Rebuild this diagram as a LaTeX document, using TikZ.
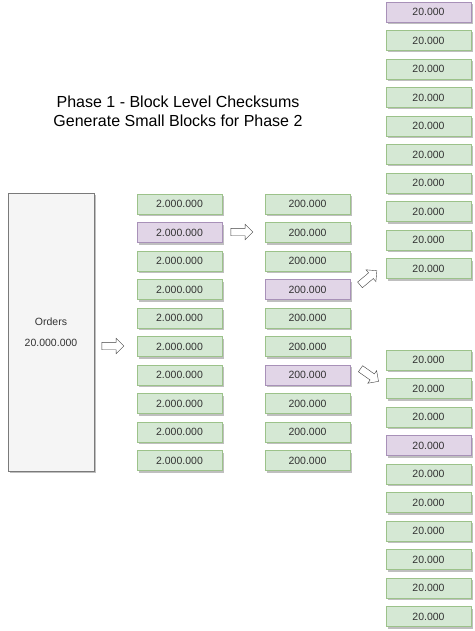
\documentclass[tikz,border=0pt]{standalone}
\usepackage{fontspec}
\setmainfont{Liberation Sans}
\usepackage{tikz}
\usetikzlibrary{arrows.meta, positioning, shapes.arrows, shadows}

\definecolor{chunkfill}{HTML}{D5E8D4}
\definecolor{chunkline}{HTML}{9CC28A}
\definecolor{pickfill}{HTML}{E1D5E7}
\definecolor{pickline}{HTML}{A891B8}
\definecolor{tablefill}{HTML}{F5F5F5}
\definecolor{tableline}{HTML}{7A7A7A}

\begin{document}
\begin{tikzpicture}[
        x=1pt, y=1pt,
        node distance = 28.5pt,
        chunk/.style={rectangle, draw=chunkline, fill=chunkfill, minimum width=85pt, minimum height=20pt,
            text=black!80, font=\fontsize{10.5}{12}\selectfont,
            drop shadow={shadow xshift=2pt, shadow yshift=-2pt, opacity=0.25, fill=black}},
        pick/.style={chunk, draw=pickline, fill=pickfill},
        table/.style={rectangle, draw=tableline, fill=tablefill, minimum width=86pt, minimum height=278pt,
            text=black!80, font=\fontsize{10.5}{12.5}\selectfont, align=center,
            drop shadow={shadow xshift=2pt, shadow yshift=-2pt, opacity=0.25, fill=black}},
        blockarrow/.style={single arrow, draw=black!75, fill=white, inner sep=3.5pt, minimum height=22pt,
            single arrow head extend=4pt}
    ]
        \useasboundingbox (0,0) rectangle (474,-631);

        % title
        \node[align=center, font=\fontsize{16}{19}\selectfont] (title) at (178,-111)
            {Phase 1 - Block Level Checksums\\Generate Small Blocks for Phase 2};

        % source table
        \node[table] (orders) at (51,-332) {Orders\\[9pt]20.000.000};

        % first split: 10 x 2.000.000
        \node[chunk] (split1) at (179.5,-204) {2.000.000};
        \node[pick, below of=split1] (split2) {2.000.000};
        \node[chunk, below of=split2] (split3) {2.000.000};
        \node[chunk, below of=split3] (split4) {2.000.000};
        \node[chunk, below of=split4] (split5) {2.000.000};
        \node[chunk, below of=split5] (split6) {2.000.000};
        \node[chunk, below of=split6] (split7) {2.000.000};
        \node[chunk, below of=split7] (split8) {2.000.000};
        \node[chunk, below of=split8] (split9) {2.000.000};
        \node[chunk, below of=split9] (split10) {2.000.000};

        % second split: 10 x 200.000
        \node[chunk] (sub1) at (307.5,-204) {200.000};
        \node[chunk, below of=sub1] (sub2) {200.000};
        \node[chunk, below of=sub2] (sub3) {200.000};
        \node[pick, below of=sub3] (sub4) {200.000};
        \node[chunk, below of=sub4] (sub5) {200.000};
        \node[chunk, below of=sub5] (sub6) {200.000};
        \node[pick, below of=sub6] (sub7) {200.000};
        \node[chunk, below of=sub7] (sub8) {200.000};
        \node[chunk, below of=sub8] (sub9) {200.000};
        \node[chunk, below of=sub9] (sub10) {200.000};

        % third split, upper: 10 x 20.000
        \node[pick] (up1) at (428.5,-12) {20.000};
        \node[chunk, below of=up1] (up2) {20.000};
        \node[chunk, below of=up2] (up3) {20.000};
        \node[chunk, below of=up3] (up4) {20.000};
        \node[chunk, below of=up4] (up5) {20.000};
        \node[chunk, below of=up5] (up6) {20.000};
        \node[chunk, below of=up6] (up7) {20.000};
        \node[chunk, below of=up7] (up8) {20.000};
        \node[chunk, below of=up8] (up9) {20.000};
        \node[chunk, below of=up9] (up10) {20.000};

        % third split, lower: 10 x 20.000
        \node[chunk] (low1) at (428.5,-360) {20.000};
        \node[chunk, below of=low1] (low2) {20.000};
        \node[chunk, below of=low2] (low3) {20.000};
        \node[pick, below of=low3] (low4) {20.000};
        \node[chunk, below of=low4] (low5) {20.000};
        \node[chunk, below of=low5] (low6) {20.000};
        \node[chunk, below of=low6] (low7) {20.000};
        \node[chunk, below of=low7] (low8) {20.000};
        \node[chunk, below of=low8] (low9) {20.000};
        \node[chunk, below of=low9] (low10) {20.000};

        % block arrows between the steps
        \node[blockarrow] (go1) at (111,-346) {};
        \node[blockarrow] (go2) at (240,-232) {};
        \node[blockarrow, rotate=40] (go3) at (367,-279) {};
        \node[blockarrow, rotate=-35] (go4) at (368,-374) {};
    \end{tikzpicture}
\end{document}
